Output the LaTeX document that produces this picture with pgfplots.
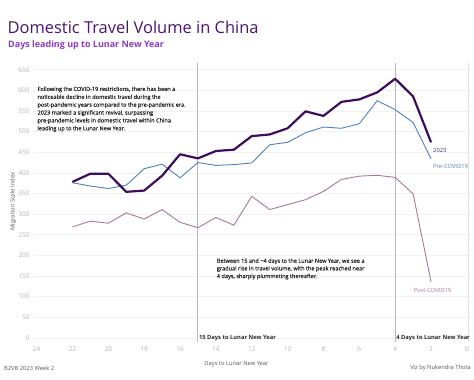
\documentclass[border=0pt]{standalone}
\usepackage{pgfplots}
\pgfplotsset{compat=1.18}
\usepackage{fontspec}
\setmainfont{Open Sans}
\newfontfamily\semib[FakeBold=0.8]{Open Sans}
\definecolor{ttl}{HTML}{4A1470}
\definecolor{sub}{HTML}{8A3DC0}
\definecolor{c23}{HTML}{3C0E5A}
\definecolor{pre}{HTML}{4F80B9}
\definecolor{post}{HTML}{9F7B95}
\definecolor{tick}{HTML}{B0B0B0}
\definecolor{ann}{HTML}{2A2A2A}
\begin{document}
\begin{tikzpicture}[x=1bp,y=1bp]
\path (0,0) rectangle (474,379);
\node[anchor=base west, font=\fontsize{16.5}{18}\selectfont, text=ttl, inner sep=0] at (7.5,379-33.3) {Domestic Travel Volume in China};
\node[anchor=base west, font=\fontsize{9}{10}\selectfont\bfseries, text=sub, inner sep=0] at (8,379-47.7) {Days leading up to Lunar New Year};
\begin{axis}[
  at={(33bp,37bp)}, anchor=south west,
  scale only axis, width=435.7bp, height=278.5bp,
  x dir=reverse,
  xmin=-0.1, xmax=24.2, ymin=-10, ymax=665,
  xtick={0,2,...,24}, ytick={0,50,...,650},
  axis line style={draw=none},
  major tick length=0pt,
  ymajorgrids, grid style={gray!12, line width=0.5pt},
  tick label style={font=\fontsize{6.5}{7}\selectfont, text=tick},
  /pgf/number format/assume math mode=true,
  xticklabel style={yshift=-1bp},
  clip=false,
]
\draw[gray!25, line width=0.5pt] (axis cs:-0.1,-10) -- (axis cs:-0.1,665);
\draw[gray!55, line width=1pt] (axis cs:15,-10) -- (axis cs:15,665);
\draw[gray!55, line width=1pt] (axis cs:4,-10) -- (axis cs:4,665);
\addplot[post, line width=0.9pt] coordinates {
(22,269) (21,283) (20,278) (19,303) (18,288) (17,311) (16,280) (15,267) (14,292) (13,273)
(12,343) (11,311) (10,323) (9,335) (8,355) (7,384) (6,392) (5,394) (4,389) (3,349) (2,136)};
\addplot[pre, line width=0.9pt] coordinates {
(22,376) (21,368) (20,362) (19,370) (18,410) (17,421) (16,388) (15,425) (14,418) (13,420)
(12,424) (11,468) (10,474) (9,497) (8,511) (7,508) (6,519) (5,575) (4,553) (3,522) (2,434)};
\addplot[c23, line width=2.2pt, line join=round] coordinates {
(22,378) (21,398) (20,398) (19,354) (18,357) (17,393) (16,445) (15,435) (14,453) (13,456)
(12,489) (11,493) (10,508) (9,549) (8,538) (7,572) (6,578) (5,595) (4,628) (3,585) (2,474)};
\node[anchor=west, font=\fontsize{5.8}{7}\selectfont\bfseries, text=ann, inner sep=0] at (axis cs:14.95,0) {15 Days to Lunar New Year};
\node[anchor=west, font=\fontsize{5.8}{7}\selectfont\bfseries, text=ann, inner sep=0] at (axis cs:3.95,0) {4 Days to Lunar New Year};
\end{axis}
\node[anchor=west, font=\fontsize{5.8}{7}\selectfont, text=c23!80!gray, inner sep=0] at (433,379-150) {2023};
\node[anchor=west, font=\fontsize{5.8}{7}\selectfont, text=pre, inner sep=0] at (433,379-166.5) {Pre-COVID19};
\node[anchor=west, font=\fontsize{5.8}{7}\selectfont, text=post, inner sep=0] at (413.5,379-290) {Post-COVID19};
\node[anchor=north west, align=left, font=\fontsize{5.6}{7.9}\selectfont\semib, text=ann, inner sep=0] at (37.3,379-86.5) {Following the COVID-19 restrictions, there has been a\\noticeable decline in domestic travel during the\\post-pandemic years compared to the pre-pandemic era.\\2023 marked a significant revival, surpassing\\pre-pandemic levels in domestic travel within China\\leading up to the Lunar New Year.};
\node[anchor=north west, align=left, font=\fontsize{5.6}{7.7}\selectfont\semib, text=ann, inner sep=0] at (216.7,379-258.3) {Between 15 and \textasciitilde4 days to the Lunar New Year, we see a\\gradual rise in travel volume, with the peak reached near\\4 days, sharply plummeting thereafter.};
\node[rotate=90, font=\fontsize{5.8}{7}\selectfont, text=ann!80, inner sep=0] at (13,379-201.5) {Migration Scale Index};
\node[font=\fontsize{5.8}{7}\selectfont, text=ann!80, inner sep=0] at (236.5,379-364) {Days to Lunar New Year};
\node[anchor=west, font=\fontsize{5.8}{7}\selectfont, text=ann!80, inner sep=0] at (4,379-368) {B2VB 2023 Week 2};
\node[anchor=east, font=\fontsize{5.8}{7}\selectfont, text=ann!80, inner sep=0] at (471,379-368) {Viz by Nukendra Thota};
\end{tikzpicture}
\end{document}
